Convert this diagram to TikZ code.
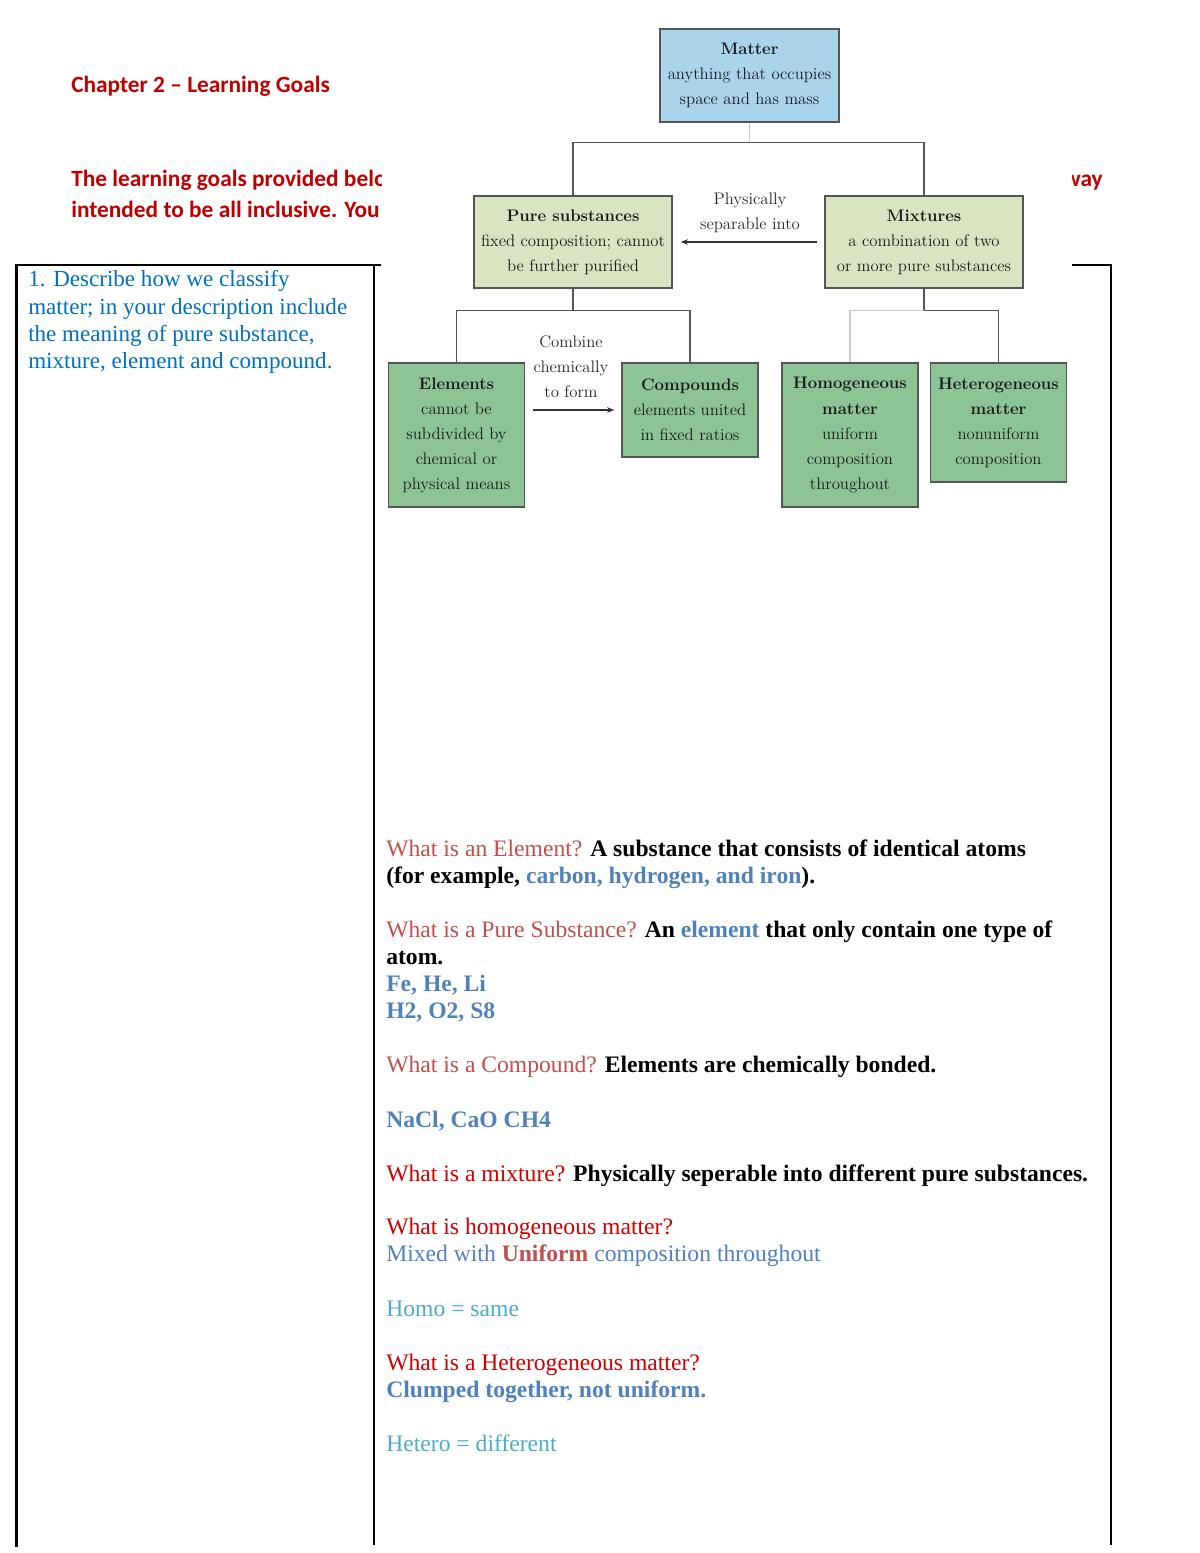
\documentclass[tikz,border=0pt]{standalone}
\usepackage{fontspec}
\usetikzlibrary{positioning, arrows.meta}
\usepackage{xcolor}
\newfontfamily\calfont{Carlito}
\newfontfamily\serfont{Liberation Serif}
\definecolor{hdred}{RGB}{192,0,0}
\definecolor{qred}{RGB}{192,80,77}
\definecolor{brred}{RGB}{206,0,0}
\definecolor{ansblue}{RGB}{79,129,189}
\definecolor{colblue}{RGB}{0,112,192}
\definecolor{tealc}{RGB}{75,172,198}
\definecolor{mattblue}{RGB}{170,212,236}
\definecolor{palegreen}{RGB}{216,228,194}
\definecolor{midgreen}{RGB}{140,196,150}
\definecolor{edgegray}{RGB}{85,85,85}

\begin{document}
\begin{tikzpicture}[x=0.025cm, y=-0.025cm,
        box/.style={rectangle, draw=edgegray, line width=1.1pt, inner sep=0pt, align=center, text=black!90, font=\fontsize{11.9}{17.8}\selectfont},
        topbox/.style={box, fill=mattblue},
        midbox/.style={box, fill=palegreen, minimum width=4.95cm, minimum height=2.3cm},
        lowbox/.style={box, fill=midgreen, minimum width=3.4cm},
        link/.style={draw=edgegray, line width=1pt},
        faint/.style={draw=gray!40, line width=0.8pt},
        arrow/.style={-{Stealth[length=5pt, width=4pt]}, line width=0.9pt, black!80},
        lbl/.style={align=center, inner sep=0pt, text=black!85, font=\fontsize{11.9}{17.8}\selectfont},
        rule/.style={line width=1.8pt, black},
        goal/.style={anchor=base west, inner sep=0pt, text=hdred, font=\calfont\bfseries\fontsize{16.6}{22}\selectfont},
        task/.style={anchor=base west, inner sep=0pt, text=colblue, font=\serfont\fontsize{16.4}{19.2}\selectfont},
        ans/.style={anchor=base west, inner sep=0pt, font=\serfont\fontsize{16.8}{19.2}\selectfont}
    ]
        \useasboundingbox (0,0) rectangle (1200,1553);

        % Page heading
        \node[goal] (title) at (71,92) {Chapter 2 – Learning Goals};
        \begin{scope}
            \clip (0,150) rectangle (381,230);
            \node[goal] (intro1) at (71,186) {The learning goals provided below};
            \node[goal] (intro2) at (71,217) {intended to be all inclusive. You};
        \end{scope}
        \begin{scope}
            \clip (1072,150) rectangle (1200,200);
            \node[goal, anchor=base east] (intro3) at (1103,186) {way};
        \end{scope}

        % Table rules
        \draw[rule] (16,265) -- (381,265);
        \draw[rule] (16.5,264) -- (16.5,1547);
        \draw[rule] (374,265) -- (374,1545);
        \draw[rule] (1072,265) -- (1111,265) -- (1111,1545);

        % Left column
        \node[task] (q1a) at (28,286) {1. Describe how we classify};
        \node[task] (q1b) at (28,314) {matter; in your description include};
        \node[task] (q1c) at (28,341) {the meaning of pure substance,};
        \node[task] (q1d) at (28,368) {mixture, element and compound.};

        % Classification chart
        \node[topbox, minimum width=4.475cm, minimum height=2.325cm] (matter) at (749.5,75.5) {\textbf{Matter}\\anything that occupies\\space and has mass};
        \node[midbox] (pure) at (573,242) {\textbf{Pure substances}\\fixed composition; cannot\\be further purified};
        \node[midbox] (mix) at (924,242) {\textbf{Mixtures}\\a combination of two\\or more pure substances};
        \node[lowbox, minimum height=3.6cm] (elem) at (456.5,435) {\textbf{Elements}\\cannot be\\subdivided by\\chemical or\\physical means};
        \node[lowbox, minimum height=2.35cm] (comp) at (690,410) {\textbf{Compounds}\\elements united\\in fixed ratios};
        \node[lowbox, minimum height=3.6cm] (homo) at (850,435) {\textbf{Homogeneous}\\\textbf{matter}\\uniform\\composition\\throughout};
        \node[lowbox, minimum height=2.975cm] (het) at (998.5,422.5) {\textbf{Heterogeneous}\\\textbf{matter}\\nonuniform\\composition};

        % Tree lines
        \draw[faint] (matter.south) -- ++(0,20) coordinate (mfork);
        \draw[link] (pure.north) |- (mfork) -| (mix.north);
        \draw[link] (pure.south) -- ++(0,22) coordinate (pfork);
        \draw[link] (elem.north) |- (pfork) -| (comp.north);
        \draw[link] (mix.south) -- ++(0,22) coordinate (xfork);
        \draw[faint] (homo.north) |- (xfork);
        \draw[link] (xfork) -| (het.north);

        % Arrows
        \node[lbl] (phys) at (750,212.5) {Physically\\separable into};
        \draw[arrow, shorten <=0.175cm, shorten >=0.2cm] (mix.west) -- (pure.east);
        \node[lbl] (comb) at (571,367) {Combine\\chemically\\to form};
        \draw[arrow, shorten <=0.2cm, shorten >=0.175cm] (elem.east |- comp.west) -- (comp.west);

        % Answers
        \node[ans] (el1) at (386,856) {\textcolor{qred}{What is an Element?} \textbf{A substance that consists of identical atoms}};
        \node[ans] (el2) at (386,883) {\textbf{(for example, \textcolor{ansblue}{carbon, hydrogen, and iron}).}};
        \node[ans] (ps1) at (386,937) {\textcolor{qred}{What is a Pure Substance?} \textbf{An \textcolor{ansblue}{element} that only contain one type of}};
        \node[ans] (ps2) at (386,964) {\textbf{atom.}};
        \node[ans, text=ansblue] (ps3) at (386,991) {\textbf{Fe, He, Li}};
        \node[ans, text=ansblue] (ps4) at (386,1018) {\textbf{H2, O2, S8}};
        \node[ans] (cp1) at (386,1072) {\textcolor{qred}{What is a Compound?} \textbf{Elements are chemically bonded.}};
        \node[ans, text=ansblue] (cp2) at (386,1127) {\textbf{NaCl, CaO CH4}};
        \node[ans] (mx1) at (386,1181) {\textcolor{brred}{What is a mixture?} \textbf{Physically seperable into different pure substances.}};
        \node[ans, text=brred] (hm1) at (386,1234) {What is homogeneous matter?};
        \node[ans, text=ansblue] (hm2) at (386,1261) {Mixed with \textcolor{qred}{\textbf{Uniform}} composition throughout};
        \node[ans, text=tealc] (hm3) at (386,1316) {Homo = same};
        \node[ans, text=brred] (ht1) at (386,1370) {What is a Heterogeneous matter?};
        \node[ans, text=ansblue] (ht2) at (386,1397) {\textbf{Clumped together, not uniform.}};
        \node[ans, text=tealc] (ht3) at (386,1451) {Hetero = different};
    \end{tikzpicture}
\end{document}
